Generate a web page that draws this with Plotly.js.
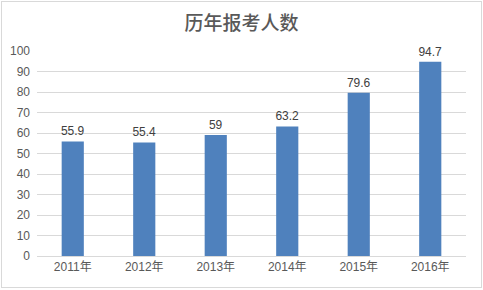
<!DOCTYPE html>
<html>
<head>
<meta charset="utf-8">
<script src="https://cdn.plot.ly/plotly-3.0.1.min.js"></script>
<style>
html,body{margin:0;padding:0;background:#fff;}
#wrap{position:relative;width:483px;height:290px;overflow:hidden;}
#chart{position:absolute;left:0;top:0;width:483px;height:290px;}
#frame{position:absolute;left:1px;top:1px;width:479px;height:285px;border:1px solid #d9d9d9;pointer-events:none;}
</style>
</head>
<body>
<div id="wrap"><div id="chart"></div><div id="frame"></div></div>
<script>
var categories = ["2011年","2012年","2013年","2014年","2015年","2016年"];
var values = [55.9, 55.4, 59, 63.2, 79.6, 94.7];
var labels = ["55.9","55.4","59","63.2","79.6","94.7"];
var yTicks = [0,10,20,30,40,50,60,70,80,90,100];

var trace = {
  type: "bar",
  x: categories,
  y: values,
  text: labels,
  textposition: "outside",
  constraintext: "none",
  cliponaxis: false,
  textfont: {family: "Liberation Sans, Arial, sans-serif", size: 12, color: "#404040"},
  marker: {color: "#4f81bd"},
  width: 0.31,
  hoverinfo: "none"
};

var layout = {
  width: 483,
  height: 290,
  margin: {l: 37, r: 17, t: 51, b: 34, pad: 0},
  paper_bgcolor: "#ffffff",
  plot_bgcolor: "#ffffff",
  showlegend: false,
  title: {
    text: "历年报考人数",
    font: {family: "Noto Sans CJK SC, sans-serif", size: 19, color: "#595959", weight: 500},
    x: 0.5, xanchor: "center", y: 0.08, yanchor: "middle", yref: "container"
  },
  xaxis: {
    type: "category",
    tickfont: {family: "Liberation Sans, Noto Sans CJK SC, sans-serif", size: 12, color: "#595959"},
    showgrid: false,
    showline: true,
    linecolor: "#d9d9d9",
    linewidth: 1,
    ticks: "",
    fixedrange: true
  },
  yaxis: {
    range: [0, 100],
    tickvals: yTicks,
    ticktext: yTicks.map(String),
    tickfont: {family: "Liberation Sans, Arial, sans-serif", size: 12, color: "#595959"},
    showgrid: true,
    gridcolor: "#d9d9d9",
    gridwidth: 1,
    zeroline: false,
    showline: false,
    ticks: "",
    ticklabelstandoff: 6,
    fixedrange: true
  }
};
layout.title.y = 0.92;

Plotly.newPlot("chart", [trace], layout, {displayModeBar: false, staticPlot: true});
</script>
</body>
</html>
